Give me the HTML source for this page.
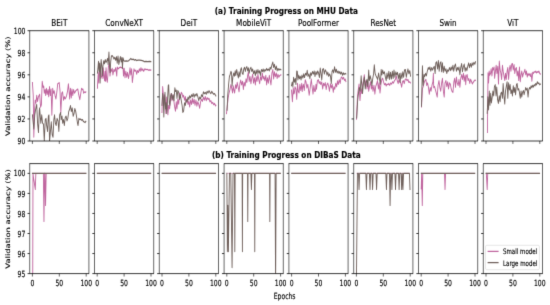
<!DOCTYPE html><html><head><meta charset="utf-8"><title>Training Progress</title><style>html,body{margin:0;padding:0;background:#fff}svg{display:block}</style></head><body><svg width="550" height="305" viewBox="0 0 550 305">
<defs>
<clipPath id="c10"><rect x="29.70" y="30.7" width="59.2" height="110.30"/></clipPath>
<clipPath id="c20"><rect x="29.70" y="163.6" width="59.2" height="110.00"/></clipPath>
<clipPath id="c11"><rect x="94.50" y="30.7" width="59.2" height="110.30"/></clipPath>
<clipPath id="c21"><rect x="94.50" y="163.6" width="59.2" height="110.00"/></clipPath>
<clipPath id="c12"><rect x="159.30" y="30.7" width="59.2" height="110.30"/></clipPath>
<clipPath id="c22"><rect x="159.30" y="163.6" width="59.2" height="110.00"/></clipPath>
<clipPath id="c13"><rect x="224.10" y="30.7" width="59.2" height="110.30"/></clipPath>
<clipPath id="c23"><rect x="224.10" y="163.6" width="59.2" height="110.00"/></clipPath>
<clipPath id="c14"><rect x="288.90" y="30.7" width="59.2" height="110.30"/></clipPath>
<clipPath id="c24"><rect x="288.90" y="163.6" width="59.2" height="110.00"/></clipPath>
<clipPath id="c15"><rect x="353.70" y="30.7" width="59.2" height="110.30"/></clipPath>
<clipPath id="c25"><rect x="353.70" y="163.6" width="59.2" height="110.00"/></clipPath>
<clipPath id="c16"><rect x="418.50" y="30.7" width="59.2" height="110.30"/></clipPath>
<clipPath id="c26"><rect x="418.50" y="163.6" width="59.2" height="110.00"/></clipPath>
<clipPath id="c17"><rect x="483.30" y="30.7" width="59.2" height="110.30"/></clipPath>
<clipPath id="c27"><rect x="483.30" y="163.6" width="59.2" height="110.00"/></clipPath>
<filter id="soft" x="0" y="0" width="100%" height="100%" filterUnits="objectBoundingBox" color-interpolation-filters="sRGB"><feConvolveMatrix order="3" kernelMatrix="0.0100 0.0800 0.0100 0.0800 0.6400 0.0800 0.0100 0.0800 0.0100" edgeMode="duplicate" preserveAlpha="true"/></filter>
</defs>
<g filter="url(#soft)">
<rect x="-2" y="-2" width="554" height="309" fill="#fff"/>
<g font-family="'DejaVu Sans', 'Liberation Sans', sans-serif">
<g clip-path="url(#c10)"><polyline transform="scale(0.61,0.844)" points="53.15,97.93 54.49,113.11 55.44,162.35 56.78,128.28 57.73,118.62 58.88,122.07 60.21,113.11 61.55,120.00 63.08,114.49 64.99,111.73 66.51,126.90 67.85,124.14 69.18,96.56 70.71,103.45 71.67,102.07 72.62,110.35 73.96,106.21 74.91,113.11 76.05,104.83 77.39,111.73 78.73,106.21 79.87,114.49 81.21,102.76 82.54,113.11 83.69,105.52 85.02,136.28 86.36,104.83 87.51,110.35 88.84,107.59 90.18,113.11 91.70,117.24 93.23,108.97 94.57,99.31 95.90,98.62 97.05,97.93 98.38,107.59 99.72,133.52 101.25,110.35 102.58,108.97 104.11,118.62 105.44,114.49 106.59,117.24 107.93,115.87 109.26,113.11 110.79,107.59 112.12,99.31 113.08,106.21 114.22,117.24 115.56,104.83 116.90,115.87 118.04,105.52 119.38,113.11 120.71,106.21 122.24,110.35 124.15,107.59 126.06,106.21 127.58,105.52 128.92,111.73 130.83,117.93 132.16,111.73 133.69,104.83 135.03,106.21 135.98,105.52 137.12,110.35 138.46,108.97 139.80,109.66 140.75,108.97" fill="none" stroke="#c0669f" stroke-width="1.5" stroke-linejoin="round" stroke-linecap="square"/></g>
<g clip-path="url(#c10)"><polyline transform="scale(0.61,0.844)" points="53.15,136.24 54.49,145.89 55.44,152.79 56.97,136.24 58.50,129.34 60.21,123.82 61.55,145.89 63.08,156.93 64.41,130.72 64.99,127.96 65.94,137.62 66.89,145.89 68.42,136.24 69.76,145.89 71.28,147.27 72.62,167.27 74.15,141.76 75.48,140.38 76.44,148.65 77.96,155.55 79.30,137.62 80.25,136.24 81.21,167.96 82.54,156.93 84.07,144.51 85.60,159.69 86.93,162.45 88.27,141.76 89.41,136.24 90.75,145.89 92.09,148.65 93.61,140.38 95.14,143.13 96.48,155.55 97.81,136.24 99.34,133.48 100.29,141.76 101.63,137.62 102.77,145.89 104.11,141.76 105.44,148.65 106.97,139.00 108.31,137.62 109.83,143.13 111.17,140.38 112.70,132.10 114.22,129.34 115.56,125.20 116.90,132.10 118.42,127.96 119.95,137.62 121.28,134.86 122.62,128.65 124.15,132.10 125.67,139.00 127.01,145.89 127.96,148.65 129.30,140.38 130.83,141.76 132.16,141.07 133.69,142.44 135.22,141.76 136.55,143.82 138.08,144.51 139.41,145.20 140.75,143.82" fill="none" stroke="#70615c" stroke-width="1.5" stroke-linejoin="round" stroke-linecap="square"/></g>
<g clip-path="url(#c20)"><polyline transform="scale(0.61,0.844)" points="53.11,205.39 140.78,205.39" fill="none" stroke="#c0669f" stroke-width="0.8" stroke-linejoin="round" stroke-linecap="butt"/></g>
<g clip-path="url(#c20)"><polyline transform="scale(0.61,0.844)" points="53.11,490.46 54.08,205.39 55.06,211.33 55.94,214.89 56.82,219.64 57.88,224.40 58.76,205.39" fill="none" stroke="#c0669f" stroke-width="1.5" stroke-linejoin="round" stroke-linecap="butt"/></g>
<g clip-path="url(#c20)"><polyline transform="scale(0.61,0.844)" points="71.11,205.39 72.08,262.41 73.14,205.39 73.66,205.39 74.72,243.40 75.69,205.39" fill="none" stroke="#c0669f" stroke-width="1.5" stroke-linejoin="round" stroke-linecap="butt"/></g>
<g clip-path="url(#c20)"><polyline transform="scale(0.61,0.844)" points="53.11,205.39 140.96,205.39" fill="none" stroke="#70615c" stroke-width="1.5" stroke-linejoin="round" stroke-linecap="square"/></g>
<line x1="29.45" x2="89.15" y1="30.70" y2="30.70" stroke="#000" stroke-width="0.78"/>
<line x1="29.45" x2="89.15" y1="141.00" y2="141.00" stroke="#000" stroke-width="0.78"/>
<line x1="29.70" x2="29.70" y1="30.70" y2="141.00" stroke="#000" stroke-width="0.6"/>
<line x1="88.90" x2="88.90" y1="30.70" y2="141.00" stroke="#000" stroke-width="0.6"/>
<line x1="29.45" x2="89.15" y1="163.60" y2="163.60" stroke="#000" stroke-width="0.78"/>
<line x1="29.45" x2="89.15" y1="273.60" y2="273.60" stroke="#000" stroke-width="0.78"/>
<line x1="29.70" x2="29.70" y1="163.60" y2="273.60" stroke="#000" stroke-width="0.6"/>
<line x1="88.90" x2="88.90" y1="163.60" y2="273.60" stroke="#000" stroke-width="0.6"/>
<line x1="27.55" x2="29.70" y1="141.00" y2="141.00" stroke="#000" stroke-width="0.78"/>
<text transform="translate(25.40,144.10) scale(0.725,1)" font-size="8.44" text-anchor="end" fill="#000" stroke="#000" stroke-width="0.15">90</text>
<line x1="27.55" x2="29.70" y1="118.94" y2="118.94" stroke="#000" stroke-width="0.78"/>
<text transform="translate(25.40,122.04) scale(0.725,1)" font-size="8.44" text-anchor="end" fill="#000" stroke="#000" stroke-width="0.15">92</text>
<line x1="27.55" x2="29.70" y1="96.88" y2="96.88" stroke="#000" stroke-width="0.78"/>
<text transform="translate(25.40,99.98) scale(0.725,1)" font-size="8.44" text-anchor="end" fill="#000" stroke="#000" stroke-width="0.15">94</text>
<line x1="27.55" x2="29.70" y1="74.82" y2="74.82" stroke="#000" stroke-width="0.78"/>
<text transform="translate(25.40,77.92) scale(0.725,1)" font-size="8.44" text-anchor="end" fill="#000" stroke="#000" stroke-width="0.15">96</text>
<line x1="27.55" x2="29.70" y1="52.76" y2="52.76" stroke="#000" stroke-width="0.78"/>
<text transform="translate(25.40,55.86) scale(0.725,1)" font-size="8.44" text-anchor="end" fill="#000" stroke="#000" stroke-width="0.15">98</text>
<line x1="27.55" x2="29.70" y1="30.70" y2="30.70" stroke="#000" stroke-width="0.78"/>
<text transform="translate(25.40,33.80) scale(0.725,1)" font-size="8.44" text-anchor="end" fill="#000" stroke="#000" stroke-width="0.15">100</text>
<line x1="27.55" x2="29.70" y1="273.60" y2="273.60" stroke="#000" stroke-width="0.78"/>
<text transform="translate(25.40,276.70) scale(0.725,1)" font-size="8.44" text-anchor="end" fill="#000" stroke="#000" stroke-width="0.15">95</text>
<line x1="27.55" x2="29.70" y1="253.55" y2="253.55" stroke="#000" stroke-width="0.78"/>
<text transform="translate(25.40,256.65) scale(0.725,1)" font-size="8.44" text-anchor="end" fill="#000" stroke="#000" stroke-width="0.15">96</text>
<line x1="27.55" x2="29.70" y1="233.50" y2="233.50" stroke="#000" stroke-width="0.78"/>
<text transform="translate(25.40,236.60) scale(0.725,1)" font-size="8.44" text-anchor="end" fill="#000" stroke="#000" stroke-width="0.15">97</text>
<line x1="27.55" x2="29.70" y1="213.45" y2="213.45" stroke="#000" stroke-width="0.78"/>
<text transform="translate(25.40,216.55) scale(0.725,1)" font-size="8.44" text-anchor="end" fill="#000" stroke="#000" stroke-width="0.15">98</text>
<line x1="27.55" x2="29.70" y1="193.40" y2="193.40" stroke="#000" stroke-width="0.78"/>
<text transform="translate(25.40,196.50) scale(0.725,1)" font-size="8.44" text-anchor="end" fill="#000" stroke="#000" stroke-width="0.15">99</text>
<line x1="27.55" x2="29.70" y1="173.35" y2="173.35" stroke="#000" stroke-width="0.78"/>
<text transform="translate(25.40,176.45) scale(0.725,1)" font-size="8.44" text-anchor="end" fill="#000" stroke="#000" stroke-width="0.15">100</text>
<line x1="32.40" x2="32.40" y1="141.00" y2="143.95" stroke="#000" stroke-width="0.6"/>
<line x1="32.40" x2="32.40" y1="273.60" y2="276.55" stroke="#000" stroke-width="0.6"/>
<text transform="translate(32.40,286.00) scale(0.725,1)" font-size="8.44" text-anchor="middle" fill="#000" stroke="#000" stroke-width="0.15">0</text>
<line x1="59.30" x2="59.30" y1="141.00" y2="143.95" stroke="#000" stroke-width="0.6"/>
<line x1="59.30" x2="59.30" y1="273.60" y2="276.55" stroke="#000" stroke-width="0.6"/>
<text transform="translate(59.30,286.00) scale(0.725,1)" font-size="8.44" text-anchor="middle" fill="#000" stroke="#000" stroke-width="0.15">50</text>
<line x1="86.20" x2="86.20" y1="141.00" y2="143.95" stroke="#000" stroke-width="0.6"/>
<line x1="86.20" x2="86.20" y1="273.60" y2="276.55" stroke="#000" stroke-width="0.6"/>
<text transform="translate(86.20,286.00) scale(0.725,1)" font-size="8.44" text-anchor="middle" fill="#000" stroke="#000" stroke-width="0.15">100</text>
<text transform="translate(59.30,25.50) scale(0.78,1)" font-size="9.35" text-anchor="middle" fill="#000" stroke="#000" stroke-width="0.15">BEiT</text>
<g clip-path="url(#c11)"><polyline transform="scale(0.61,0.844)" points="159.71,104.32 161.05,85.84 162.00,98.25 163.15,84.46 164.29,80.32 165.44,92.73 166.77,89.98 168.11,81.70 168.68,92.73 169.25,80.32 170.59,91.35 171.54,95.49 172.31,84.46 173.07,96.18 173.83,80.32 174.98,94.11 175.93,97.42 176.89,88.60 177.65,78.94 179.18,74.80 180.32,89.98 181.47,81.70 182.61,84.46 183.95,81.01 185.09,88.60 186.81,82.39 188.15,84.46 189.67,80.32 191.39,89.98 192.15,79.63 193.49,81.70 195.40,80.32 197.31,79.63 199.22,80.32 200.55,79.63 201.70,81.01 202.46,89.98 203.61,81.01 204.94,92.04 206.28,84.46 207.80,91.35 209.14,85.84 210.67,92.73 212.00,87.22 213.15,80.32 214.48,88.60 215.82,81.70 216.96,97.56 218.30,89.98 219.64,81.70 221.16,84.46 222.69,83.08 224.03,87.91 225.36,83.77 226.89,85.84 228.41,81.70 229.75,84.46 231.09,80.32 232.61,83.77 234.14,81.70 235.48,84.46 237.38,81.70 239.29,82.39 241.20,82.11 243.11,83.08 245.02,82.80 247.31,83.08" fill="none" stroke="#c0669f" stroke-width="1.5" stroke-linejoin="round" stroke-linecap="square"/></g>
<g clip-path="url(#c11)"><polyline transform="scale(0.61,0.844)" points="159.71,86.53 160.47,81.70 161.43,72.73 162.38,84.46 163.34,74.80 164.10,98.25 164.86,81.70 165.82,70.67 166.77,77.56 167.73,89.98 168.68,78.94 170.02,72.04 171.16,75.49 172.50,70.67 173.83,74.11 174.98,72.04 176.31,69.29 177.27,76.18 178.60,61.70 179.56,77.56 180.51,85.84 181.47,73.42 182.61,66.53 183.95,65.84 185.28,67.22 186.81,69.98 188.15,67.91 189.67,71.35 191.01,67.22 192.15,74.80 193.49,66.53 194.83,76.18 195.97,72.04 197.31,67.22 198.64,73.42 199.79,67.91 200.74,81.01 201.70,68.60 203.03,72.04 204.94,72.32 206.85,72.04 208.76,72.46 210.67,72.04 212.57,70.67 214.48,69.29 216.39,70.67 218.30,69.98 220.21,71.35 222.12,70.67 224.03,71.77 225.93,71.35 228.80,71.35 231.66,71.49 234.52,72.04 236.43,73.01 239.29,72.87 242.16,73.01 245.02,72.87 247.31,73.01" fill="none" stroke="#70615c" stroke-width="1.5" stroke-linejoin="round" stroke-linecap="square"/></g>
<g clip-path="url(#c21)"><polyline transform="scale(0.61,0.844)" points="159.34,205.39 247.01,205.39" fill="none" stroke="#c0669f" stroke-width="0.8" stroke-linejoin="round" stroke-linecap="butt"/></g>
<g clip-path="url(#c21)"><polyline transform="scale(0.61,0.844)" points="159.34,205.39 247.19,205.39" fill="none" stroke="#70615c" stroke-width="1.5" stroke-linejoin="round" stroke-linecap="square"/></g>
<line x1="94.25" x2="153.95" y1="30.70" y2="30.70" stroke="#000" stroke-width="0.78"/>
<line x1="94.25" x2="153.95" y1="141.00" y2="141.00" stroke="#000" stroke-width="0.78"/>
<line x1="94.50" x2="94.50" y1="30.70" y2="141.00" stroke="#000" stroke-width="0.6"/>
<line x1="153.70" x2="153.70" y1="30.70" y2="141.00" stroke="#000" stroke-width="0.6"/>
<line x1="94.25" x2="153.95" y1="163.60" y2="163.60" stroke="#000" stroke-width="0.78"/>
<line x1="94.25" x2="153.95" y1="273.60" y2="273.60" stroke="#000" stroke-width="0.78"/>
<line x1="94.50" x2="94.50" y1="163.60" y2="273.60" stroke="#000" stroke-width="0.6"/>
<line x1="153.70" x2="153.70" y1="163.60" y2="273.60" stroke="#000" stroke-width="0.6"/>
<line x1="92.35" x2="94.50" y1="141.00" y2="141.00" stroke="#000" stroke-width="0.78"/>
<line x1="92.35" x2="94.50" y1="118.94" y2="118.94" stroke="#000" stroke-width="0.78"/>
<line x1="92.35" x2="94.50" y1="96.88" y2="96.88" stroke="#000" stroke-width="0.78"/>
<line x1="92.35" x2="94.50" y1="74.82" y2="74.82" stroke="#000" stroke-width="0.78"/>
<line x1="92.35" x2="94.50" y1="52.76" y2="52.76" stroke="#000" stroke-width="0.78"/>
<line x1="92.35" x2="94.50" y1="30.70" y2="30.70" stroke="#000" stroke-width="0.78"/>
<line x1="92.35" x2="94.50" y1="273.60" y2="273.60" stroke="#000" stroke-width="0.78"/>
<line x1="92.35" x2="94.50" y1="253.55" y2="253.55" stroke="#000" stroke-width="0.78"/>
<line x1="92.35" x2="94.50" y1="233.50" y2="233.50" stroke="#000" stroke-width="0.78"/>
<line x1="92.35" x2="94.50" y1="213.45" y2="213.45" stroke="#000" stroke-width="0.78"/>
<line x1="92.35" x2="94.50" y1="193.40" y2="193.40" stroke="#000" stroke-width="0.78"/>
<line x1="92.35" x2="94.50" y1="173.35" y2="173.35" stroke="#000" stroke-width="0.78"/>
<line x1="97.20" x2="97.20" y1="141.00" y2="143.95" stroke="#000" stroke-width="0.6"/>
<line x1="97.20" x2="97.20" y1="273.60" y2="276.55" stroke="#000" stroke-width="0.6"/>
<text transform="translate(97.20,286.00) scale(0.725,1)" font-size="8.44" text-anchor="middle" fill="#000" stroke="#000" stroke-width="0.15">0</text>
<line x1="124.10" x2="124.10" y1="141.00" y2="143.95" stroke="#000" stroke-width="0.6"/>
<line x1="124.10" x2="124.10" y1="273.60" y2="276.55" stroke="#000" stroke-width="0.6"/>
<text transform="translate(124.10,286.00) scale(0.725,1)" font-size="8.44" text-anchor="middle" fill="#000" stroke="#000" stroke-width="0.15">50</text>
<line x1="151.00" x2="151.00" y1="141.00" y2="143.95" stroke="#000" stroke-width="0.6"/>
<line x1="151.00" x2="151.00" y1="273.60" y2="276.55" stroke="#000" stroke-width="0.6"/>
<text transform="translate(151.00,286.00) scale(0.725,1)" font-size="8.44" text-anchor="middle" fill="#000" stroke="#000" stroke-width="0.15">100</text>
<text transform="translate(124.10,25.50) scale(0.78,1)" font-size="9.35" text-anchor="middle" fill="#000" stroke="#000" stroke-width="0.15">ConvNeXT</text>
<g clip-path="url(#c12)"><polyline transform="scale(0.61,0.844)" points="265.51,133.02 266.65,102.67 267.60,110.95 268.56,124.74 269.89,112.33 270.85,124.74 271.99,134.40 273.33,115.09 274.28,124.74 275.24,135.78 276.57,124.74 278.10,128.88 279.44,117.85 280.58,110.95 281.92,119.23 283.25,112.33 284.78,117.85 286.12,126.12 287.64,131.64 288.98,120.60 290.12,128.88 291.46,117.85 292.99,123.36 294.32,110.26 295.66,115.09 297.19,109.57 298.52,110.95 299.67,115.09 301.00,113.02 302.53,118.60 303.86,114.60 305.20,121.60 306.73,117.60 308.25,123.60 309.59,119.60 310.93,126.60 312.45,118.60 313.98,123.60 315.32,116.60 316.65,122.60 318.18,117.60 319.70,124.60 321.23,118.60 322.76,125.60 324.28,120.60 325.81,123.60 327.34,128.19 328.87,120.60 330.39,117.85 331.92,119.92 333.45,115.09 334.97,118.54 336.50,114.40 338.03,119.23 339.55,115.78 341.08,117.85 342.61,116.47 344.13,120.60 345.66,119.23 347.19,122.67 348.71,121.29 350.24,124.05 351.77,122.67 353.29,125.43 353.87,124.74" fill="none" stroke="#c0669f" stroke-width="1.5" stroke-linejoin="round" stroke-linecap="square"/></g>
<g clip-path="url(#c12)"><polyline transform="scale(0.61,0.844)" points="265.51,124.74 266.65,110.95 267.60,115.09 268.56,138.54 269.51,117.85 270.47,109.57 271.42,128.88 272.38,121.98 273.33,134.40 274.67,117.85 275.81,101.29 276.57,100.60 277.53,121.98 278.48,124.74 279.63,113.71 280.96,110.95 282.30,117.85 283.83,112.33 285.16,119.23 286.69,104.05 287.64,108.19 288.98,106.81 290.12,116.47 291.46,107.50 292.99,109.57 294.32,117.85 295.66,112.33 297.19,119.23 298.52,124.74 299.67,133.02 301.00,131.64 302.53,121.98 303.86,124.74 305.20,117.85 306.73,120.60 308.25,115.09 309.59,117.85 310.93,113.71 312.45,115.78 313.98,112.33 315.32,114.40 316.65,110.95 318.18,115.09 319.70,111.64 321.23,113.71 322.76,110.95 324.28,114.40 325.81,119.23 327.34,115.09 328.87,117.16 330.39,112.33 331.92,114.40 333.45,108.88 334.97,110.95 336.50,109.57 338.03,111.64 339.55,108.19 341.08,110.26 342.61,107.50 344.13,109.57 345.66,110.95 347.19,108.19 348.71,110.26 350.24,111.64 351.77,110.95 353.29,113.02 353.87,113.71" fill="none" stroke="#70615c" stroke-width="1.5" stroke-linejoin="round" stroke-linecap="square"/></g>
<g clip-path="url(#c22)"><polyline transform="scale(0.61,0.844)" points="265.57,205.39 353.24,205.39" fill="none" stroke="#c0669f" stroke-width="0.8" stroke-linejoin="round" stroke-linecap="butt"/></g>
<g clip-path="url(#c22)"><polyline transform="scale(0.61,0.844)" points="265.57,205.39 353.42,205.39" fill="none" stroke="#70615c" stroke-width="1.5" stroke-linejoin="round" stroke-linecap="square"/></g>
<line x1="159.05" x2="218.75" y1="30.70" y2="30.70" stroke="#000" stroke-width="0.78"/>
<line x1="159.05" x2="218.75" y1="141.00" y2="141.00" stroke="#000" stroke-width="0.78"/>
<line x1="159.30" x2="159.30" y1="30.70" y2="141.00" stroke="#000" stroke-width="0.6"/>
<line x1="218.50" x2="218.50" y1="30.70" y2="141.00" stroke="#000" stroke-width="0.6"/>
<line x1="159.05" x2="218.75" y1="163.60" y2="163.60" stroke="#000" stroke-width="0.78"/>
<line x1="159.05" x2="218.75" y1="273.60" y2="273.60" stroke="#000" stroke-width="0.78"/>
<line x1="159.30" x2="159.30" y1="163.60" y2="273.60" stroke="#000" stroke-width="0.6"/>
<line x1="218.50" x2="218.50" y1="163.60" y2="273.60" stroke="#000" stroke-width="0.6"/>
<line x1="157.15" x2="159.30" y1="141.00" y2="141.00" stroke="#000" stroke-width="0.78"/>
<line x1="157.15" x2="159.30" y1="118.94" y2="118.94" stroke="#000" stroke-width="0.78"/>
<line x1="157.15" x2="159.30" y1="96.88" y2="96.88" stroke="#000" stroke-width="0.78"/>
<line x1="157.15" x2="159.30" y1="74.82" y2="74.82" stroke="#000" stroke-width="0.78"/>
<line x1="157.15" x2="159.30" y1="52.76" y2="52.76" stroke="#000" stroke-width="0.78"/>
<line x1="157.15" x2="159.30" y1="30.70" y2="30.70" stroke="#000" stroke-width="0.78"/>
<line x1="157.15" x2="159.30" y1="273.60" y2="273.60" stroke="#000" stroke-width="0.78"/>
<line x1="157.15" x2="159.30" y1="253.55" y2="253.55" stroke="#000" stroke-width="0.78"/>
<line x1="157.15" x2="159.30" y1="233.50" y2="233.50" stroke="#000" stroke-width="0.78"/>
<line x1="157.15" x2="159.30" y1="213.45" y2="213.45" stroke="#000" stroke-width="0.78"/>
<line x1="157.15" x2="159.30" y1="193.40" y2="193.40" stroke="#000" stroke-width="0.78"/>
<line x1="157.15" x2="159.30" y1="173.35" y2="173.35" stroke="#000" stroke-width="0.78"/>
<line x1="162.00" x2="162.00" y1="141.00" y2="143.95" stroke="#000" stroke-width="0.6"/>
<line x1="162.00" x2="162.00" y1="273.60" y2="276.55" stroke="#000" stroke-width="0.6"/>
<text transform="translate(162.00,286.00) scale(0.725,1)" font-size="8.44" text-anchor="middle" fill="#000" stroke="#000" stroke-width="0.15">0</text>
<line x1="188.90" x2="188.90" y1="141.00" y2="143.95" stroke="#000" stroke-width="0.6"/>
<line x1="188.90" x2="188.90" y1="273.60" y2="276.55" stroke="#000" stroke-width="0.6"/>
<text transform="translate(188.90,286.00) scale(0.725,1)" font-size="8.44" text-anchor="middle" fill="#000" stroke="#000" stroke-width="0.15">50</text>
<line x1="215.80" x2="215.80" y1="141.00" y2="143.95" stroke="#000" stroke-width="0.6"/>
<line x1="215.80" x2="215.80" y1="273.60" y2="276.55" stroke="#000" stroke-width="0.6"/>
<text transform="translate(215.80,286.00) scale(0.725,1)" font-size="8.44" text-anchor="middle" fill="#000" stroke="#000" stroke-width="0.15">100</text>
<text transform="translate(188.90,25.50) scale(0.78,1)" font-size="9.35" text-anchor="middle" fill="#000" stroke="#000" stroke-width="0.15">DeiT</text>
<g clip-path="url(#c13)"><polyline transform="scale(0.61,0.844)" points="371.30,134.51 372.83,123.89 374.16,115.62 375.50,110.10 377.02,105.96 378.55,100.44 379.89,104.58 381.22,110.10 382.37,101.82 383.70,107.34 384.66,110.10 386.18,100.44 387.52,104.58 388.86,97.69 390.38,103.20 391.91,108.72 393.25,99.07 394.58,94.93 396.11,100.44 397.64,96.31 398.97,105.96 400.31,97.69 401.83,101.82 403.36,93.55 404.70,97.69 406.03,89.41 407.18,85.27 408.51,96.31 409.85,90.79 411.38,99.07 412.90,92.17 414.24,88.03 415.57,98.38 417.10,92.17 418.63,100.44 419.96,90.79 421.30,96.31 422.83,88.03 424.35,94.93 425.69,99.07 427.03,90.79 428.55,94.93 430.08,86.65 431.41,93.55 432.75,90.79 434.28,95.62 435.80,89.41 437.14,100.44 438.48,92.17 440.00,98.38 441.53,89.41 442.87,94.93 444.20,100.44 445.73,86.65 447.25,82.51 448.59,93.55 449.93,85.27 451.45,90.79 452.98,86.65 454.32,92.86 455.65,88.03 457.18,91.48 458.71,89.41 460.42,88.72" fill="none" stroke="#c0669f" stroke-width="1.5" stroke-linejoin="round" stroke-linecap="square"/></g>
<g clip-path="url(#c13)"><polyline transform="scale(0.61,0.844)" points="372.25,130.38 373.21,114.24 374.73,100.44 376.07,90.79 377.41,88.03 378.55,84.58 379.51,85.96 380.46,101.82 381.80,90.79 383.13,86.65 384.28,90.10 385.61,83.89 386.57,89.41 388.09,82.51 389.43,88.03 390.77,92.17 391.91,85.27 393.25,90.79 394.58,82.51 395.73,80.44 397.06,86.65 398.40,88.03 399.54,81.82 400.88,79.75 402.22,84.58 403.36,80.44 404.70,79.07 406.03,83.89 407.18,80.44 408.51,86.65 409.85,81.82 411.38,79.75 412.71,84.58 414.24,81.82 415.57,87.34 417.10,83.89 418.63,89.41 419.96,83.20 421.30,87.34 422.83,82.51 424.35,86.65 425.69,83.89 427.03,89.41 428.55,82.51 430.08,84.58 431.41,81.82 432.75,85.27 434.28,82.51 435.80,83.89 437.14,81.13 438.48,83.20 440.00,81.82 441.53,83.89 442.87,79.75 444.20,81.82 445.73,77.00 447.25,73.55 448.59,79.75 449.93,76.31 451.45,82.51 452.98,78.38 454.32,83.89 455.65,81.13 457.18,83.20 458.71,81.82 460.42,82.51" fill="none" stroke="#70615c" stroke-width="1.5" stroke-linejoin="round" stroke-linecap="square"/></g>
<g clip-path="url(#c23)"><polyline transform="scale(0.61,0.844)" points="371.80,205.39 459.47,205.39" fill="none" stroke="#c0669f" stroke-width="0.8" stroke-linejoin="round" stroke-linecap="butt"/></g>
<g clip-path="url(#c23)"><polyline transform="scale(0.61,0.844)" points="371.89,205.39 372.69,298.04 373.57,243.40 374.45,298.04 376.12,205.39 378.33,205.39 380.45,317.04 382.03,205.39 384.42,205.39 384.94,298.04 385.47,205.39 396.94,205.39 397.38,298.04 397.82,205.39 405.76,205.39 406.20,262.41 406.64,205.39 411.32,205.39 412.11,224.40 412.90,205.39 417.22,205.39 417.67,298.04 418.11,205.39 441.92,205.39 442.36,262.41 442.80,205.39 450.92,205.39 451.80,343.18 452.68,205.39 459.65,205.39" fill="none" stroke="#70615c" stroke-width="1.5" stroke-linejoin="round" stroke-linecap="square"/></g>
<line x1="223.85" x2="283.55" y1="30.70" y2="30.70" stroke="#000" stroke-width="0.78"/>
<line x1="223.85" x2="283.55" y1="141.00" y2="141.00" stroke="#000" stroke-width="0.78"/>
<line x1="224.10" x2="224.10" y1="30.70" y2="141.00" stroke="#000" stroke-width="0.6"/>
<line x1="283.30" x2="283.30" y1="30.70" y2="141.00" stroke="#000" stroke-width="0.6"/>
<line x1="223.85" x2="283.55" y1="163.60" y2="163.60" stroke="#000" stroke-width="0.78"/>
<line x1="223.85" x2="283.55" y1="273.60" y2="273.60" stroke="#000" stroke-width="0.78"/>
<line x1="224.10" x2="224.10" y1="163.60" y2="273.60" stroke="#000" stroke-width="0.6"/>
<line x1="283.30" x2="283.30" y1="163.60" y2="273.60" stroke="#000" stroke-width="0.6"/>
<line x1="221.95" x2="224.10" y1="141.00" y2="141.00" stroke="#000" stroke-width="0.78"/>
<line x1="221.95" x2="224.10" y1="118.94" y2="118.94" stroke="#000" stroke-width="0.78"/>
<line x1="221.95" x2="224.10" y1="96.88" y2="96.88" stroke="#000" stroke-width="0.78"/>
<line x1="221.95" x2="224.10" y1="74.82" y2="74.82" stroke="#000" stroke-width="0.78"/>
<line x1="221.95" x2="224.10" y1="52.76" y2="52.76" stroke="#000" stroke-width="0.78"/>
<line x1="221.95" x2="224.10" y1="30.70" y2="30.70" stroke="#000" stroke-width="0.78"/>
<line x1="221.95" x2="224.10" y1="273.60" y2="273.60" stroke="#000" stroke-width="0.78"/>
<line x1="221.95" x2="224.10" y1="253.55" y2="253.55" stroke="#000" stroke-width="0.78"/>
<line x1="221.95" x2="224.10" y1="233.50" y2="233.50" stroke="#000" stroke-width="0.78"/>
<line x1="221.95" x2="224.10" y1="213.45" y2="213.45" stroke="#000" stroke-width="0.78"/>
<line x1="221.95" x2="224.10" y1="193.40" y2="193.40" stroke="#000" stroke-width="0.78"/>
<line x1="221.95" x2="224.10" y1="173.35" y2="173.35" stroke="#000" stroke-width="0.78"/>
<line x1="226.80" x2="226.80" y1="141.00" y2="143.95" stroke="#000" stroke-width="0.6"/>
<line x1="226.80" x2="226.80" y1="273.60" y2="276.55" stroke="#000" stroke-width="0.6"/>
<text transform="translate(226.80,286.00) scale(0.725,1)" font-size="8.44" text-anchor="middle" fill="#000" stroke="#000" stroke-width="0.15">0</text>
<line x1="253.70" x2="253.70" y1="141.00" y2="143.95" stroke="#000" stroke-width="0.6"/>
<line x1="253.70" x2="253.70" y1="273.60" y2="276.55" stroke="#000" stroke-width="0.6"/>
<text transform="translate(253.70,286.00) scale(0.725,1)" font-size="8.44" text-anchor="middle" fill="#000" stroke="#000" stroke-width="0.15">50</text>
<line x1="280.60" x2="280.60" y1="141.00" y2="143.95" stroke="#000" stroke-width="0.6"/>
<line x1="280.60" x2="280.60" y1="273.60" y2="276.55" stroke="#000" stroke-width="0.6"/>
<text transform="translate(280.60,286.00) scale(0.725,1)" font-size="8.44" text-anchor="middle" fill="#000" stroke="#000" stroke-width="0.15">100</text>
<text transform="translate(253.70,25.50) scale(0.78,1)" font-size="9.35" text-anchor="middle" fill="#000" stroke="#000" stroke-width="0.15">MobileViT</text>
<g clip-path="url(#c14)"><polyline transform="scale(0.61,0.844)" points="477.86,106.95 479.38,120.33 480.72,104.19 481.67,111.09 482.63,109.99 483.58,102.81 485.11,105.57 486.44,117.57 487.78,98.68 488.93,108.33 490.26,109.99 491.60,100.06 493.12,106.95 494.65,98.68 495.41,108.33 495.99,104.19 497.32,100.06 498.85,106.95 500.38,94.54 501.71,97.30 503.05,104.19 504.57,100.06 506.10,108.33 506.86,112.75 508.01,106.95 510.30,93.85 511.64,102.81 513.16,111.37 514.50,101.44 516.03,108.33 517.17,107.64 517.93,100.06 518.89,105.57 520.22,95.92 521.75,94.54 523.28,98.68 524.61,96.61 525.95,100.06 527.48,97.30 529.00,105.16 530.34,98.68 531.67,101.44 533.20,97.99 534.73,105.85 536.06,100.06 537.40,98.68 538.93,102.81 540.07,107.92 541.79,99.37 543.12,104.19 544.65,100.06 546.37,109.30 547.51,102.81 548.85,105.57 550.38,98.68 551.90,102.81 553.24,95.92 554.58,100.06 556.10,94.54 557.63,98.68 558.96,92.47 560.30,91.09 561.83,93.85 563.35,91.78 564.69,95.23 566.03,93.85 566.98,96.61" fill="none" stroke="#c0669f" stroke-width="1.5" stroke-linejoin="round" stroke-linecap="square"/></g>
<g clip-path="url(#c14)"><polyline transform="scale(0.61,0.844)" points="477.86,101.44 479.00,97.30 480.15,102.81 481.29,91.78 482.63,97.30 483.96,93.16 485.11,100.06 486.44,84.19 487.40,84.88 488.35,94.54 489.69,89.02 490.83,93.16 492.17,90.40 493.51,94.54 495.03,89.02 496.56,92.47 497.89,87.64 499.23,91.78 500.76,86.95 502.28,89.02 503.62,83.50 504.96,90.40 506.48,87.64 508.01,93.16 509.35,86.26 510.68,89.02 512.21,84.88 513.73,87.64 515.07,84.19 516.41,90.40 517.93,84.88 519.46,88.33 520.80,84.19 522.13,86.26 523.66,91.78 524.99,80.75 526.14,86.26 527.48,94.54 528.81,82.12 530.34,81.43 531.67,87.64 533.20,82.81 534.73,84.88 536.06,89.02 537.40,85.57 538.93,90.40 540.45,87.64 541.79,90.40 543.12,98.68 544.27,84.88 545.61,82.81 546.94,86.26 548.47,79.37 550.00,85.57 551.33,82.12 552.67,86.26 554.19,84.19 555.72,86.95 557.06,84.88 558.39,87.64 559.92,85.57 561.45,89.02 562.78,86.26 564.12,88.33 565.64,86.95 566.98,87.64" fill="none" stroke="#70615c" stroke-width="1.5" stroke-linejoin="round" stroke-linecap="square"/></g>
<g clip-path="url(#c24)"><polyline transform="scale(0.61,0.844)" points="478.03,205.39 565.70,205.39" fill="none" stroke="#c0669f" stroke-width="0.8" stroke-linejoin="round" stroke-linecap="butt"/></g>
<g clip-path="url(#c24)"><polyline transform="scale(0.61,0.844)" points="478.03,205.39 565.88,205.39" fill="none" stroke="#70615c" stroke-width="1.5" stroke-linejoin="round" stroke-linecap="square"/></g>
<line x1="288.65" x2="348.35" y1="30.70" y2="30.70" stroke="#000" stroke-width="0.78"/>
<line x1="288.65" x2="348.35" y1="141.00" y2="141.00" stroke="#000" stroke-width="0.78"/>
<line x1="288.90" x2="288.90" y1="30.70" y2="141.00" stroke="#000" stroke-width="0.6"/>
<line x1="348.10" x2="348.10" y1="30.70" y2="141.00" stroke="#000" stroke-width="0.6"/>
<line x1="288.65" x2="348.35" y1="163.60" y2="163.60" stroke="#000" stroke-width="0.78"/>
<line x1="288.65" x2="348.35" y1="273.60" y2="273.60" stroke="#000" stroke-width="0.78"/>
<line x1="288.90" x2="288.90" y1="163.60" y2="273.60" stroke="#000" stroke-width="0.6"/>
<line x1="348.10" x2="348.10" y1="163.60" y2="273.60" stroke="#000" stroke-width="0.6"/>
<line x1="286.75" x2="288.90" y1="141.00" y2="141.00" stroke="#000" stroke-width="0.78"/>
<line x1="286.75" x2="288.90" y1="118.94" y2="118.94" stroke="#000" stroke-width="0.78"/>
<line x1="286.75" x2="288.90" y1="96.88" y2="96.88" stroke="#000" stroke-width="0.78"/>
<line x1="286.75" x2="288.90" y1="74.82" y2="74.82" stroke="#000" stroke-width="0.78"/>
<line x1="286.75" x2="288.90" y1="52.76" y2="52.76" stroke="#000" stroke-width="0.78"/>
<line x1="286.75" x2="288.90" y1="30.70" y2="30.70" stroke="#000" stroke-width="0.78"/>
<line x1="286.75" x2="288.90" y1="273.60" y2="273.60" stroke="#000" stroke-width="0.78"/>
<line x1="286.75" x2="288.90" y1="253.55" y2="253.55" stroke="#000" stroke-width="0.78"/>
<line x1="286.75" x2="288.90" y1="233.50" y2="233.50" stroke="#000" stroke-width="0.78"/>
<line x1="286.75" x2="288.90" y1="213.45" y2="213.45" stroke="#000" stroke-width="0.78"/>
<line x1="286.75" x2="288.90" y1="193.40" y2="193.40" stroke="#000" stroke-width="0.78"/>
<line x1="286.75" x2="288.90" y1="173.35" y2="173.35" stroke="#000" stroke-width="0.78"/>
<line x1="291.60" x2="291.60" y1="141.00" y2="143.95" stroke="#000" stroke-width="0.6"/>
<line x1="291.60" x2="291.60" y1="273.60" y2="276.55" stroke="#000" stroke-width="0.6"/>
<text transform="translate(291.60,286.00) scale(0.725,1)" font-size="8.44" text-anchor="middle" fill="#000" stroke="#000" stroke-width="0.15">0</text>
<line x1="318.50" x2="318.50" y1="141.00" y2="143.95" stroke="#000" stroke-width="0.6"/>
<line x1="318.50" x2="318.50" y1="273.60" y2="276.55" stroke="#000" stroke-width="0.6"/>
<text transform="translate(318.50,286.00) scale(0.725,1)" font-size="8.44" text-anchor="middle" fill="#000" stroke="#000" stroke-width="0.15">50</text>
<line x1="345.40" x2="345.40" y1="141.00" y2="143.95" stroke="#000" stroke-width="0.6"/>
<line x1="345.40" x2="345.40" y1="273.60" y2="276.55" stroke="#000" stroke-width="0.6"/>
<text transform="translate(345.40,286.00) scale(0.725,1)" font-size="8.44" text-anchor="middle" fill="#000" stroke="#000" stroke-width="0.15">100</text>
<text transform="translate(318.50,25.50) scale(0.78,1)" font-size="9.35" text-anchor="middle" fill="#000" stroke="#000" stroke-width="0.15">PoolFormer</text>
<g clip-path="url(#c15)"><polyline transform="scale(0.61,0.844)" points="584.41,141.05 585.94,114.84 587.28,106.56 588.61,99.67 590.14,118.98 591.67,105.18 593.00,110.70 594.34,101.05 595.86,95.53 597.20,88.63 598.54,101.05 600.06,95.53 601.59,105.18 603.12,96.91 604.45,107.94 605.79,102.43 607.32,96.91 608.84,105.18 610.18,101.05 611.51,107.94 613.04,101.05 614.57,111.39 615.90,102.43 617.24,99.67 618.77,95.53 620.29,105.18 621.63,98.29 622.96,110.01 624.49,99.67 626.02,94.15 627.35,92.77 628.69,96.91 630.22,100.36 631.74,98.98 633.08,101.74 634.41,99.67 635.94,100.36 637.47,98.98 639.00,101.05 640.52,98.29 642.05,99.67 643.58,96.91 645.10,98.29 646.63,95.53 648.16,94.15 649.68,90.01 651.21,95.53 652.74,98.98 654.07,94.15 655.41,96.91 656.93,98.29 658.46,103.12 659.80,96.91 661.13,95.53 662.66,98.98 664.19,94.15 665.71,93.46 667.24,95.53 668.77,94.15 670.29,97.60 671.82,96.91 672.97,98.29" fill="none" stroke="#c0669f" stroke-width="1.5" stroke-linejoin="round" stroke-linecap="square"/></g>
<g clip-path="url(#c15)"><polyline transform="scale(0.61,0.844)" points="584.80,139.67 586.32,118.98 587.85,109.32 589.18,103.80 590.52,107.94 592.05,90.01 593.19,101.05 594.34,110.70 595.86,98.29 597.39,91.39 598.73,105.18 600.06,98.29 601.59,94.15 602.93,102.43 604.45,83.11 605.41,95.53 606.93,90.01 608.27,94.15 609.61,101.05 611.13,92.77 612.47,87.25 613.61,76.91 614.95,87.25 616.48,90.01 617.81,92.08 619.15,94.15 620.67,86.56 622.01,92.77 623.54,99.67 624.87,82.43 626.02,88.63 627.35,83.11 628.69,87.25 630.22,85.18 631.74,91.39 633.08,95.53 634.41,86.56 635.94,92.77 637.47,84.49 638.80,94.15 640.14,85.87 641.67,93.46 643.19,84.49 644.53,92.77 645.87,83.11 647.39,91.39 648.92,85.18 650.25,88.63 651.59,85.87 653.12,92.77 654.64,87.25 655.98,97.60 657.32,86.56 658.84,92.77 660.37,85.18 661.71,91.39 663.04,83.11 664.57,82.43 666.09,91.39 667.43,85.87 668.77,81.74 670.29,87.25 671.82,83.80 672.97,90.01" fill="none" stroke="#70615c" stroke-width="1.5" stroke-linejoin="round" stroke-linecap="square"/></g>
<g clip-path="url(#c25)"><polyline transform="scale(0.61,0.844)" points="584.26,205.39 671.93,205.39" fill="none" stroke="#c0669f" stroke-width="0.8" stroke-linejoin="round" stroke-linecap="butt"/></g>
<g clip-path="url(#c25)"><polyline transform="scale(0.61,0.844)" points="584.26,340.80 585.94,205.39 587.61,205.39 588.58,224.40 589.55,205.39 599.70,205.39 600.67,224.40 601.64,205.39 605.61,205.39 606.58,224.40 607.55,205.39 609.84,205.39 610.81,224.40 611.78,205.39 616.37,205.39 617.34,224.40 618.31,205.39 632.51,205.39 633.48,224.40 634.45,205.39 638.50,205.39 639.47,243.40 640.44,205.39 641.50,205.39 642.47,224.40 643.44,205.39 647.41,205.39 648.38,224.40 649.35,205.39 653.32,205.39 654.29,224.40 655.26,205.39 657.47,205.39 658.44,224.40 659.41,205.39 659.58,205.39 660.55,224.40 661.52,205.39 671.22,205.39 672.11,224.40" fill="none" stroke="#70615c" stroke-width="1.5" stroke-linejoin="round" stroke-linecap="square"/></g>
<line x1="353.45" x2="413.15" y1="30.70" y2="30.70" stroke="#000" stroke-width="0.78"/>
<line x1="353.45" x2="413.15" y1="141.00" y2="141.00" stroke="#000" stroke-width="0.78"/>
<line x1="353.70" x2="353.70" y1="30.70" y2="141.00" stroke="#000" stroke-width="0.6"/>
<line x1="412.90" x2="412.90" y1="30.70" y2="141.00" stroke="#000" stroke-width="0.6"/>
<line x1="353.45" x2="413.15" y1="163.60" y2="163.60" stroke="#000" stroke-width="0.78"/>
<line x1="353.45" x2="413.15" y1="273.60" y2="273.60" stroke="#000" stroke-width="0.78"/>
<line x1="353.70" x2="353.70" y1="163.60" y2="273.60" stroke="#000" stroke-width="0.6"/>
<line x1="412.90" x2="412.90" y1="163.60" y2="273.60" stroke="#000" stroke-width="0.6"/>
<line x1="351.55" x2="353.70" y1="141.00" y2="141.00" stroke="#000" stroke-width="0.78"/>
<line x1="351.55" x2="353.70" y1="118.94" y2="118.94" stroke="#000" stroke-width="0.78"/>
<line x1="351.55" x2="353.70" y1="96.88" y2="96.88" stroke="#000" stroke-width="0.78"/>
<line x1="351.55" x2="353.70" y1="74.82" y2="74.82" stroke="#000" stroke-width="0.78"/>
<line x1="351.55" x2="353.70" y1="52.76" y2="52.76" stroke="#000" stroke-width="0.78"/>
<line x1="351.55" x2="353.70" y1="30.70" y2="30.70" stroke="#000" stroke-width="0.78"/>
<line x1="351.55" x2="353.70" y1="273.60" y2="273.60" stroke="#000" stroke-width="0.78"/>
<line x1="351.55" x2="353.70" y1="253.55" y2="253.55" stroke="#000" stroke-width="0.78"/>
<line x1="351.55" x2="353.70" y1="233.50" y2="233.50" stroke="#000" stroke-width="0.78"/>
<line x1="351.55" x2="353.70" y1="213.45" y2="213.45" stroke="#000" stroke-width="0.78"/>
<line x1="351.55" x2="353.70" y1="193.40" y2="193.40" stroke="#000" stroke-width="0.78"/>
<line x1="351.55" x2="353.70" y1="173.35" y2="173.35" stroke="#000" stroke-width="0.78"/>
<line x1="356.40" x2="356.40" y1="141.00" y2="143.95" stroke="#000" stroke-width="0.6"/>
<line x1="356.40" x2="356.40" y1="273.60" y2="276.55" stroke="#000" stroke-width="0.6"/>
<text transform="translate(356.40,286.00) scale(0.725,1)" font-size="8.44" text-anchor="middle" fill="#000" stroke="#000" stroke-width="0.15">0</text>
<line x1="383.30" x2="383.30" y1="141.00" y2="143.95" stroke="#000" stroke-width="0.6"/>
<line x1="383.30" x2="383.30" y1="273.60" y2="276.55" stroke="#000" stroke-width="0.6"/>
<text transform="translate(383.30,286.00) scale(0.725,1)" font-size="8.44" text-anchor="middle" fill="#000" stroke="#000" stroke-width="0.15">50</text>
<line x1="410.20" x2="410.20" y1="141.00" y2="143.95" stroke="#000" stroke-width="0.6"/>
<line x1="410.20" x2="410.20" y1="273.60" y2="276.55" stroke="#000" stroke-width="0.6"/>
<text transform="translate(410.20,286.00) scale(0.725,1)" font-size="8.44" text-anchor="middle" fill="#000" stroke="#000" stroke-width="0.15">100</text>
<text transform="translate(383.30,25.50) scale(0.78,1)" font-size="9.35" text-anchor="middle" fill="#000" stroke="#000" stroke-width="0.15">ResNet</text>
<g clip-path="url(#c16)"><polyline transform="scale(0.61,0.844)" points="690.97,126.63 692.50,105.25 693.83,102.49 695.17,98.35 696.70,95.59 698.22,94.21 699.56,101.11 700.90,98.35 702.42,103.87 703.76,111.45 705.28,103.87 706.62,108.01 708.15,101.11 709.67,96.97 710.44,87.04 711.01,103.87 712.35,102.49 713.87,106.63 715.40,110.76 716.74,114.90 718.07,101.11 719.60,95.59 721.12,103.87 722.46,108.01 723.99,98.35 725.32,92.83 726.85,108.01 728.19,114.90 729.52,98.35 731.05,95.59 732.38,102.49 733.91,96.97 735.25,105.25 736.77,98.35 738.30,99.73 739.64,105.25 740.97,108.01 742.50,109.39 744.03,96.97 745.36,92.83 746.70,103.18 748.22,91.45 749.56,98.35 751.09,101.11 752.42,94.21 753.95,103.18 755.29,92.83 756.81,88.42 758.15,93.94 759.67,87.04 761.01,96.01 762.54,89.11 763.49,100.14 764.45,90.49 765.78,88.42 767.31,95.32 768.64,93.25 770.17,98.76 771.51,93.94 773.03,96.70 774.37,99.45 775.90,97.39 777.23,96.01 778.76,94.63 779.52,95.32" fill="none" stroke="#c0669f" stroke-width="1.5" stroke-linejoin="round" stroke-linecap="square"/></g>
<g clip-path="url(#c16)"><polyline transform="scale(0.61,0.844)" points="690.97,125.66 692.50,78.07 693.83,100.83 695.17,88.42 696.31,90.49 697.65,87.04 698.99,89.80 700.51,84.28 702.04,80.14 703.38,82.21 704.71,79.45 706.24,84.28 707.77,80.14 709.10,82.90 710.44,80.83 711.96,78.76 713.30,87.04 714.44,74.63 715.78,73.25 717.31,81.52 718.64,71.87 719.98,84.28 721.51,74.63 722.84,73.25 723.99,84.97 725.32,74.63 726.66,85.66 728.19,78.76 729.52,84.28 731.05,81.52 732.38,87.04 733.91,82.90 735.25,84.28 736.77,80.14 738.30,83.59 739.64,79.45 740.97,82.90 742.50,77.39 743.83,84.28 745.36,78.07 746.70,76.01 748.22,84.28 749.75,80.14 751.09,82.90 752.42,79.45 753.95,88.42 755.29,80.14 756.81,75.32 758.15,84.97 759.67,78.76 761.01,76.01 762.54,84.28 763.87,80.14 765.40,83.59 766.93,78.07 768.26,74.63 769.60,80.14 771.13,75.32 772.65,79.45 773.99,74.63 775.32,77.39 776.85,73.94 778.38,76.01 779.52,73.25" fill="none" stroke="#70615c" stroke-width="1.5" stroke-linejoin="round" stroke-linecap="square"/></g>
<g clip-path="url(#c26)"><polyline transform="scale(0.61,0.844)" points="690.49,205.39 778.16,205.39" fill="none" stroke="#c0669f" stroke-width="0.8" stroke-linejoin="round" stroke-linecap="butt"/></g>
<g clip-path="url(#c26)"><polyline transform="scale(0.61,0.844)" points="690.49,224.40 691.20,205.39 692.26,243.40 693.14,205.39" fill="none" stroke="#c0669f" stroke-width="1.5" stroke-linejoin="round" stroke-linecap="butt"/></g>
<g clip-path="url(#c26)"><polyline transform="scale(0.61,0.844)" points="728.68,205.39 729.56,224.40 730.44,205.39" fill="none" stroke="#c0669f" stroke-width="1.5" stroke-linejoin="round" stroke-linecap="butt"/></g>
<g clip-path="url(#c26)"><polyline transform="scale(0.61,0.844)" points="690.49,205.39 778.34,205.39" fill="none" stroke="#70615c" stroke-width="1.5" stroke-linejoin="round" stroke-linecap="square"/></g>
<line x1="418.25" x2="477.95" y1="30.70" y2="30.70" stroke="#000" stroke-width="0.78"/>
<line x1="418.25" x2="477.95" y1="141.00" y2="141.00" stroke="#000" stroke-width="0.78"/>
<line x1="418.50" x2="418.50" y1="30.70" y2="141.00" stroke="#000" stroke-width="0.6"/>
<line x1="477.70" x2="477.70" y1="30.70" y2="141.00" stroke="#000" stroke-width="0.6"/>
<line x1="418.25" x2="477.95" y1="163.60" y2="163.60" stroke="#000" stroke-width="0.78"/>
<line x1="418.25" x2="477.95" y1="273.60" y2="273.60" stroke="#000" stroke-width="0.78"/>
<line x1="418.50" x2="418.50" y1="163.60" y2="273.60" stroke="#000" stroke-width="0.6"/>
<line x1="477.70" x2="477.70" y1="163.60" y2="273.60" stroke="#000" stroke-width="0.6"/>
<line x1="416.35" x2="418.50" y1="141.00" y2="141.00" stroke="#000" stroke-width="0.78"/>
<line x1="416.35" x2="418.50" y1="118.94" y2="118.94" stroke="#000" stroke-width="0.78"/>
<line x1="416.35" x2="418.50" y1="96.88" y2="96.88" stroke="#000" stroke-width="0.78"/>
<line x1="416.35" x2="418.50" y1="74.82" y2="74.82" stroke="#000" stroke-width="0.78"/>
<line x1="416.35" x2="418.50" y1="52.76" y2="52.76" stroke="#000" stroke-width="0.78"/>
<line x1="416.35" x2="418.50" y1="30.70" y2="30.70" stroke="#000" stroke-width="0.78"/>
<line x1="416.35" x2="418.50" y1="273.60" y2="273.60" stroke="#000" stroke-width="0.78"/>
<line x1="416.35" x2="418.50" y1="253.55" y2="253.55" stroke="#000" stroke-width="0.78"/>
<line x1="416.35" x2="418.50" y1="233.50" y2="233.50" stroke="#000" stroke-width="0.78"/>
<line x1="416.35" x2="418.50" y1="213.45" y2="213.45" stroke="#000" stroke-width="0.78"/>
<line x1="416.35" x2="418.50" y1="193.40" y2="193.40" stroke="#000" stroke-width="0.78"/>
<line x1="416.35" x2="418.50" y1="173.35" y2="173.35" stroke="#000" stroke-width="0.78"/>
<line x1="421.20" x2="421.20" y1="141.00" y2="143.95" stroke="#000" stroke-width="0.6"/>
<line x1="421.20" x2="421.20" y1="273.60" y2="276.55" stroke="#000" stroke-width="0.6"/>
<text transform="translate(421.20,286.00) scale(0.725,1)" font-size="8.44" text-anchor="middle" fill="#000" stroke="#000" stroke-width="0.15">0</text>
<line x1="448.10" x2="448.10" y1="141.00" y2="143.95" stroke="#000" stroke-width="0.6"/>
<line x1="448.10" x2="448.10" y1="273.60" y2="276.55" stroke="#000" stroke-width="0.6"/>
<text transform="translate(448.10,286.00) scale(0.725,1)" font-size="8.44" text-anchor="middle" fill="#000" stroke="#000" stroke-width="0.15">50</text>
<line x1="475.00" x2="475.00" y1="141.00" y2="143.95" stroke="#000" stroke-width="0.6"/>
<line x1="475.00" x2="475.00" y1="273.60" y2="276.55" stroke="#000" stroke-width="0.6"/>
<text transform="translate(475.00,286.00) scale(0.725,1)" font-size="8.44" text-anchor="middle" fill="#000" stroke="#000" stroke-width="0.15">100</text>
<text transform="translate(448.10,25.50) scale(0.78,1)" font-size="9.35" text-anchor="middle" fill="#000" stroke="#000" stroke-width="0.15">Swin</text>
<g clip-path="url(#c17)"><polyline transform="scale(0.61,0.844)" points="799.06,156.83 800.01,86.35 800.96,98.08 801.92,84.28 802.87,89.11 804.21,87.04 805.16,81.52 806.50,89.80 807.64,80.14 808.60,82.90 809.93,79.45 810.89,92.56 812.22,84.28 813.37,77.39 814.70,87.04 816.04,78.76 817.19,99.45 818.52,72.56 819.86,82.90 821.00,86.35 822.34,93.94 823.67,77.39 824.82,84.28 826.16,89.80 827.49,95.32 828.64,87.04 829.97,93.94 831.31,84.28 832.45,80.14 833.79,93.94 835.12,81.52 836.27,77.39 837.61,84.28 838.94,76.01 840.09,75.32 841.42,82.90 842.76,76.70 843.90,87.04 845.24,81.52 846.58,80.14 847.72,89.80 849.06,84.28 850.39,95.32 851.54,79.45 852.87,96.70 854.21,88.42 855.35,84.28 856.69,91.18 858.03,87.04 859.17,85.66 860.51,82.21 861.84,88.42 862.99,84.28 864.32,91.18 865.66,87.04 866.80,89.11 868.14,87.73 869.48,90.49 870.62,87.04 871.96,96.01 873.29,85.66 874.44,87.04 875.77,84.97 877.11,85.66 878.26,84.28 879.59,86.35 880.93,84.97 882.07,85.66 883.41,84.28 884.74,87.04 885.89,87.73" fill="none" stroke="#c0669f" stroke-width="1.5" stroke-linejoin="round" stroke-linecap="square"/></g>
<g clip-path="url(#c17)"><polyline transform="scale(0.61,0.844)" points="798.67,134.19 799.82,114.88 800.96,130.05 802.11,107.98 803.25,124.53 804.40,110.74 805.54,121.77 806.69,116.25 808.02,107.98 809.36,113.50 810.51,102.46 811.84,100.39 813.18,113.50 814.32,103.15 815.66,117.63 816.99,122.46 818.52,113.50 819.86,120.39 821.00,110.74 822.34,109.36 823.67,116.25 824.82,99.01 826.16,113.50 827.49,123.15 828.64,107.98 829.97,102.46 831.31,96.94 832.45,116.25 833.79,98.32 835.12,106.60 836.27,100.39 837.61,110.74 838.94,106.60 840.09,113.50 841.42,101.77 842.76,109.36 843.90,103.84 845.24,112.12 846.58,100.39 847.72,99.01 849.06,106.60 850.39,105.22 851.54,109.36 852.87,116.25 854.21,107.98 855.35,114.88 856.69,109.36 858.03,107.29 859.17,112.12 860.51,107.98 861.84,103.84 862.99,106.60 864.32,104.53 865.66,114.88 866.80,106.60 868.14,103.84 869.48,105.22 870.62,101.77 871.96,103.84 873.29,101.08 874.44,103.15 875.77,100.39 877.11,101.77 878.26,99.01 879.59,100.39 880.93,96.94 882.07,99.01 883.41,98.32 884.74,100.39 885.89,99.70" fill="none" stroke="#70615c" stroke-width="1.5" stroke-linejoin="round" stroke-linecap="square"/></g>
<g clip-path="url(#c27)"><polyline transform="scale(0.61,0.844)" points="796.72,205.39 884.39,205.39" fill="none" stroke="#c0669f" stroke-width="0.8" stroke-linejoin="round" stroke-linecap="butt"/></g>
<g clip-path="url(#c27)"><polyline transform="scale(0.61,0.844)" points="796.72,205.39 797.25,205.39 798.66,224.40 799.54,205.39" fill="none" stroke="#c0669f" stroke-width="1.5" stroke-linejoin="round" stroke-linecap="butt"/></g>
<g clip-path="url(#c27)"><polyline transform="scale(0.61,0.844)" points="796.72,205.39 884.57,205.39" fill="none" stroke="#70615c" stroke-width="1.5" stroke-linejoin="round" stroke-linecap="square"/></g>
<line x1="483.05" x2="542.75" y1="30.70" y2="30.70" stroke="#000" stroke-width="0.78"/>
<line x1="483.05" x2="542.75" y1="141.00" y2="141.00" stroke="#000" stroke-width="0.78"/>
<line x1="483.30" x2="483.30" y1="30.70" y2="141.00" stroke="#000" stroke-width="0.6"/>
<line x1="542.50" x2="542.50" y1="30.70" y2="141.00" stroke="#000" stroke-width="0.6"/>
<line x1="483.05" x2="542.75" y1="163.60" y2="163.60" stroke="#000" stroke-width="0.78"/>
<line x1="483.05" x2="542.75" y1="273.60" y2="273.60" stroke="#000" stroke-width="0.78"/>
<line x1="483.30" x2="483.30" y1="163.60" y2="273.60" stroke="#000" stroke-width="0.6"/>
<line x1="542.50" x2="542.50" y1="163.60" y2="273.60" stroke="#000" stroke-width="0.6"/>
<line x1="481.15" x2="483.30" y1="141.00" y2="141.00" stroke="#000" stroke-width="0.78"/>
<line x1="481.15" x2="483.30" y1="118.94" y2="118.94" stroke="#000" stroke-width="0.78"/>
<line x1="481.15" x2="483.30" y1="96.88" y2="96.88" stroke="#000" stroke-width="0.78"/>
<line x1="481.15" x2="483.30" y1="74.82" y2="74.82" stroke="#000" stroke-width="0.78"/>
<line x1="481.15" x2="483.30" y1="52.76" y2="52.76" stroke="#000" stroke-width="0.78"/>
<line x1="481.15" x2="483.30" y1="30.70" y2="30.70" stroke="#000" stroke-width="0.78"/>
<line x1="481.15" x2="483.30" y1="273.60" y2="273.60" stroke="#000" stroke-width="0.78"/>
<line x1="481.15" x2="483.30" y1="253.55" y2="253.55" stroke="#000" stroke-width="0.78"/>
<line x1="481.15" x2="483.30" y1="233.50" y2="233.50" stroke="#000" stroke-width="0.78"/>
<line x1="481.15" x2="483.30" y1="213.45" y2="213.45" stroke="#000" stroke-width="0.78"/>
<line x1="481.15" x2="483.30" y1="193.40" y2="193.40" stroke="#000" stroke-width="0.78"/>
<line x1="481.15" x2="483.30" y1="173.35" y2="173.35" stroke="#000" stroke-width="0.78"/>
<line x1="486.00" x2="486.00" y1="141.00" y2="143.95" stroke="#000" stroke-width="0.6"/>
<line x1="486.00" x2="486.00" y1="273.60" y2="276.55" stroke="#000" stroke-width="0.6"/>
<text transform="translate(486.00,286.00) scale(0.725,1)" font-size="8.44" text-anchor="middle" fill="#000" stroke="#000" stroke-width="0.15">0</text>
<line x1="512.90" x2="512.90" y1="141.00" y2="143.95" stroke="#000" stroke-width="0.6"/>
<line x1="512.90" x2="512.90" y1="273.60" y2="276.55" stroke="#000" stroke-width="0.6"/>
<text transform="translate(512.90,286.00) scale(0.725,1)" font-size="8.44" text-anchor="middle" fill="#000" stroke="#000" stroke-width="0.15">50</text>
<line x1="539.80" x2="539.80" y1="141.00" y2="143.95" stroke="#000" stroke-width="0.6"/>
<line x1="539.80" x2="539.80" y1="273.60" y2="276.55" stroke="#000" stroke-width="0.6"/>
<text transform="translate(539.80,286.00) scale(0.725,1)" font-size="8.44" text-anchor="middle" fill="#000" stroke="#000" stroke-width="0.15">100</text>
<text transform="translate(512.90,25.50) scale(0.78,1)" font-size="9.35" text-anchor="middle" fill="#000" stroke="#000" stroke-width="0.15">ViT</text>
<text transform="translate(286.30,13.80) scale(0.78,1)" font-size="9.4" text-anchor="middle" font-weight="bold" fill="#000" stroke="#000" stroke-width="0.15">(a) Training Progress on MHU Data</text>
<text transform="translate(286.30,157.70) scale(0.78,1)" font-size="9.4" text-anchor="middle" font-weight="bold" fill="#000" stroke="#000" stroke-width="0.15">(b) Training Progress on DIBaS Data</text>
<text transform="translate(284.60,298.80) scale(0.725,1)" font-size="8.44" text-anchor="middle" fill="#000" stroke="#000" stroke-width="0.15">Epochs</text>
<text transform="translate(9.90,86.15) scale(0.725,1) rotate(-90)" font-size="8.44" text-anchor="middle" fill="#000" stroke="#000" stroke-width="0.15">Validation accuracy (%)</text>
<text transform="translate(9.90,218.90) scale(0.725,1) rotate(-90)" font-size="8.44" text-anchor="middle" fill="#000" stroke="#000" stroke-width="0.15">Validation accuracy (%)</text>
<rect x="485.5" y="245.3" width="53.9" height="24.4" rx="1.2" ry="1.6" fill="#fff" fill-opacity="0.8" stroke="#ccc" stroke-width="0.6" stroke-opacity="0.8"/>
<line x1="487.6" x2="498.6" y1="251.4" y2="251.4" stroke="#c0669f" stroke-width="1.27"/>
<line x1="487.6" x2="498.6" y1="262.6" y2="262.6" stroke="#70615c" stroke-width="1.27"/>
<text transform="translate(503.00,254.10) scale(0.725,1)" font-size="7.6" text-anchor="start" fill="#000" stroke="#000" stroke-width="0.15">Small model</text>
<text transform="translate(503.00,265.90) scale(0.725,1)" font-size="7.6" text-anchor="start" fill="#000" stroke="#000" stroke-width="0.15">Large model</text>
</g></g></svg></body></html>
